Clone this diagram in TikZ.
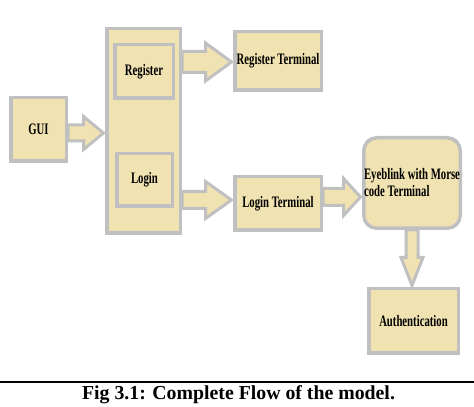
\documentclass[tikz,border=0pt]{standalone}
\usepackage{fontspec}
\setmainfont{Liberation Serif}
\newfontfamily\bxf[FakeStretch=0.67]{Liberation Serif}
\usetikzlibrary{calc}
\definecolor{boxfill}{RGB}{240,226,177}
\definecolor{boxline}{RGB}{192,192,192}
\tikzset{
  blk/.style={draw=boxline, fill=boxfill, line width=3.5pt, inner sep=0pt,
    font=\bxf\bfseries\fontsize{16}{17}\selectfont, text=black},
  blockarr/.style={draw=boxline, fill=boxfill, line width=3pt, line join=miter}
}
\newcommand\harrow[6]{%
  \path let \p1=(#1), \p2=(#2) in [blockarr]
    (\x1,#3-#4) -- (\x2-#6,#3-#4) -- (\x2-#6,#3-#5) -- (\x2,#3)
    -- (\x2-#6,#3+#5) -- (\x2-#6,#3+#4) -- (\x1,#3+#4) -- cycle;}
\newcommand\varrow[6]{%
  \path let \p1=(#1), \p2=(#2) in [blockarr]
    (#3-#4,\y1) -- (#3-#4,\y2+#6) -- (#3-#5,\y2+#6) -- (#3,\y2)
    -- (#3+#5,\y2+#6) -- (#3+#4,\y2+#6) -- (#3+#4,\y1) -- cycle;}
\begin{document}
\begin{tikzpicture}[x=1pt,y=1pt]
\useasboundingbox (0,0) rectangle (474,407);
\node[blk, minimum width=55.5pt, minimum height=63.5pt] (gui) at (38.5,277.5) {GUI};
\node[blk, minimum width=73.5pt, minimum height=204.5pt] (cont) at (143.5,276) {};
\node[blk, minimum width=58.5pt, minimum height=53.5pt] (reg) at (144,335.5) {Register};
\node[blk, minimum width=55.5pt, minimum height=52.5pt] (login) at (144.5,227) {Login};
\node[blk, minimum width=86.5pt, minimum height=58.5pt] (regt) at (278,346) {Register Terminal};
\node[blk, minimum width=86.5pt, minimum height=53.5pt] (logint) at (278,203.5) {Login Terminal};
\node[blk, rounded corners=13pt, minimum width=96.5pt, minimum height=90.5pt, align=left] (eye) at (412,224) {Eyeblink with Morse\\code Terminal};
\node[blk, minimum width=89.5pt, minimum height=64.5pt] (auth) at (413.5,86) {Authentication};
\harrow{gui.east}{$(cont.west)+(-1.5,0)$}{274}{8}{16.5}{20}
\harrow{cont.east}{$(regt.west)+(-1.5,0)$}{345}{10.5}{19}{26}
\harrow{cont.east}{$(logint.west)+(-1.5,0)$}{207}{8.5}{18.5}{26}
\harrow{logint.east}{$(eye.west)+(-1.5,0)$}{210}{8.5}{18.5}{17}
\varrow{eye.south}{$(auth.north)+(0,1.5)$}{412}{6}{11}{28}
\coordinate (ll) at (0,25);
\coordinate (lr) at (474,25);
\draw[line width=2pt] (ll) -- (lr);
\node[font=\bfseries\fontsize{19.8}{22}\selectfont, inner sep=0pt] (cap) at (238.5,12) {Fig 3.1: Complete Flow of the model.};
\end{tikzpicture}
\end{document}
